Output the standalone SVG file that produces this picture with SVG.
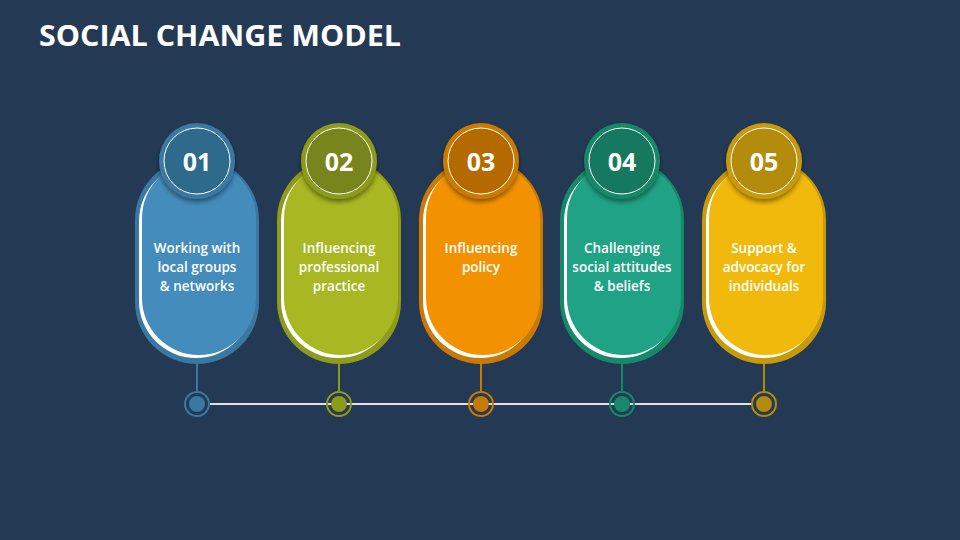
<svg xmlns="http://www.w3.org/2000/svg" width="960" height="540" viewBox="0 0 960 540">
<defs>
<style>
.title{font-family:"Open Sans","Liberation Sans",sans-serif;font-weight:700;font-size:29px;fill:#ffffff}
.num{font-family:"Open Sans","Liberation Sans",sans-serif;font-weight:700;font-size:25px;fill:#ffffff;text-anchor:middle}
.lbl{font-family:"Open Sans","Liberation Sans",sans-serif;font-weight:600;font-size:13.5px;fill:#ffffff;text-anchor:middle}
.white{fill:#ffffff}
.ring{fill:none;stroke:#ffffff;stroke-width:1}
</style>
<filter id="sh" x="-30%" y="-30%" width="160%" height="160%">
<feGaussianBlur in="SourceAlpha" stdDeviation="2.5"/>
<feOffset dx="0" dy="3" result="b"/>
<feComponentTransfer><feFuncA type="linear" slope="0.45"/></feComponentTransfer>
<feMerge><feMergeNode/><feMergeNode in="SourceGraphic"/></feMerge>
</filter>
</defs>
<rect width="960" height="540" fill="#243a54"/>
<text class="title" x="39" y="46" textLength="362" lengthAdjust="spacingAndGlyphs">SOCIAL CHANGE MODEL</text>

<g id="connectors">
<line x1="210" y1="404" x2="751" y2="404" stroke="#dfe1e8" stroke-width="2"/>
<line x1="197" y1="363" x2="197" y2="391" stroke="#3a78a2" stroke-width="2"/>
<line x1="339" y1="363" x2="339" y2="391" stroke="#8d9a1a" stroke-width="2"/>
<line x1="481" y1="363" x2="481" y2="391" stroke="#c97a05" stroke-width="2"/>
<line x1="622" y1="363" x2="622" y2="391" stroke="#178868" stroke-width="2"/>
<line x1="764" y1="363" x2="764" y2="391" stroke="#b38b08" stroke-width="2"/>
<circle cx="197" cy="404" r="12" fill="none" stroke="#3a78a2" stroke-width="2"/>
<circle cx="197" cy="404" r="8" fill="#3a78a2"/>
<circle cx="339" cy="404" r="12" fill="none" stroke="#8d9a1a" stroke-width="2"/>
<circle cx="339" cy="404" r="8" fill="#8d9a1a"/>
<circle cx="481" cy="404" r="12" fill="none" stroke="#c97a05" stroke-width="2"/>
<circle cx="481" cy="404" r="8" fill="#c97a05"/>
<circle cx="622" cy="404" r="12" fill="none" stroke="#178868" stroke-width="2"/>
<circle cx="622" cy="404" r="8" fill="#178868"/>
<circle cx="764" cy="404" r="12" fill="none" stroke="#b38b08" stroke-width="2"/>
<circle cx="764" cy="404" r="8" fill="#b38b08"/>
</g>

<g id="node1">
<rect x="135" y="158" width="124" height="206" rx="62" fill="#3a78a2"/>
<rect x="139" y="164" width="114" height="194" rx="57" class="white"/>
<rect x="142" y="161" width="114" height="194" rx="57" fill="#448cbb"/>
<g filter="url(#sh)"><circle cx="197" cy="161" r="38" fill="#3a78a2"/><circle cx="197" cy="161" r="33" fill="#2e6a8c"/></g>
<circle cx="197" cy="161" r="33" class="ring"/>
<text class="num" x="197" y="171">01</text>
<text class="lbl" x="197" y="253">Working with</text>
<text class="lbl" x="197" y="272">local groups</text>
<text class="lbl" x="197" y="291">&amp; networks</text>
</g>

<g id="node2">
<rect x="277" y="158" width="124" height="206" rx="62" fill="#8d9a1a"/>
<rect x="281" y="164" width="114" height="194" rx="57" class="white"/>
<rect x="284" y="161" width="114" height="194" rx="57" fill="#a8b722"/>
<g filter="url(#sh)"><circle cx="339" cy="161" r="38" fill="#8d9a1a"/><circle cx="339" cy="161" r="33" fill="#78851a"/></g>
<circle cx="339" cy="161" r="33" class="ring"/>
<text class="num" x="339" y="171">02</text>
<text class="lbl" x="339" y="253">Influencing</text>
<text class="lbl" x="339" y="272">professional</text>
<text class="lbl" x="339" y="291">practice</text>
</g>

<g id="node3">
<rect x="419" y="158" width="124" height="206" rx="62" fill="#c97a05"/>
<rect x="423" y="164" width="114" height="194" rx="57" class="white"/>
<rect x="426" y="161" width="114" height="194" rx="57" fill="#f39200"/>
<g filter="url(#sh)"><circle cx="481" cy="161" r="38" fill="#c97a05"/><circle cx="481" cy="161" r="33" fill="#b56b02"/></g>
<circle cx="481" cy="161" r="33" class="ring"/>
<text class="num" x="481" y="171">03</text>
<text class="lbl" x="481" y="253">Influencing</text>
<text class="lbl" x="481" y="272">policy</text>
</g>

<g id="node4">
<rect x="560" y="158" width="124" height="206" rx="62" fill="#178868"/>
<rect x="564" y="164" width="114" height="194" rx="57" class="white"/>
<rect x="567" y="161" width="114" height="194" rx="57" fill="#1fa384"/>
<g filter="url(#sh)"><circle cx="622" cy="161" r="38" fill="#178868"/><circle cx="622" cy="161" r="33" fill="#16785e"/></g>
<circle cx="622" cy="161" r="33" class="ring"/>
<text class="num" x="622" y="171">04</text>
<text class="lbl" x="622" y="253">Challenging</text>
<text class="lbl" x="622" y="272">social attitudes</text>
<text class="lbl" x="622" y="291">&amp; beliefs</text>
</g>

<g id="node5">
<rect x="702" y="158" width="124" height="206" rx="62" fill="#c79a0a"/>
<rect x="706" y="164" width="114" height="194" rx="57" class="white"/>
<rect x="709" y="161" width="114" height="194" rx="57" fill="#f0b90c"/>
<g filter="url(#sh)"><circle cx="764" cy="161" r="38" fill="#c79a0a"/><circle cx="764" cy="161" r="33" fill="#b38b08"/></g>
<circle cx="764" cy="161" r="33" class="ring"/>
<text class="num" x="764" y="171">05</text>
<text class="lbl" x="764" y="253">Support &amp;</text>
<text class="lbl" x="764" y="272">advocacy for</text>
<text class="lbl" x="764" y="291">individuals</text>
</g>
</svg>
